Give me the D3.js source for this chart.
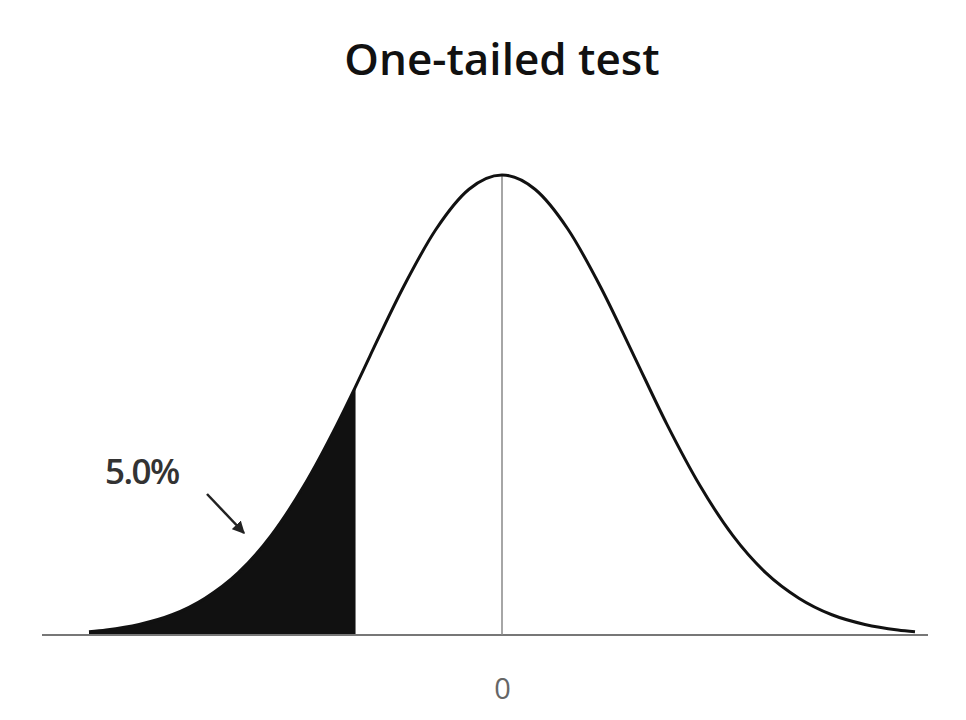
<!DOCTYPE html>
<html>
<head>
<meta charset="utf-8">
<script src="https://cdn.jsdelivr.net/npm/d3@7"></script>
<style>
  body { margin: 0; background: #fff; }
  text { font-family: "Open Sans", sans-serif; }
</style>
</head>
<body>
<svg id="chart" width="966" height="720"></svg>
<script>
// z positions (in sigma units) and relative curve heights
var zs = [-3.13, -3, -2.75, -2.5, -2.25, -2, -1.75, -1.5, -1.25, -1.11, -1, -0.75, -0.5, -0.25, 0,
  0.25, 0.5, 0.75, 1, 1.25, 1.5, 1.75, 2, 2.25, 2.5, 2.75, 3, 3.13]
var heights = [0.007, 0.011, 0.023, 0.044, 0.08, 0.135, 0.216, 0.325, 0.458, 0.54, 0.607, 0.755, 0.882, 0.969, 1,
  0.969, 0.882, 0.755, 0.607, 0.458, 0.325, 0.216, 0.135, 0.08, 0.044, 0.023, 0.011, 0.007]
var cutoff = -1.11
var tickLabels = ['0']
var tailLabel = '5.0%'

var svg = d3.select('#chart')
var x = d3.scaleLinear().domain([-3.13, 3.13]).range([89, 915])
var y = d3.scaleLinear().domain([0, 1]).range([635, 175])

var pts = zs.map(function (z, i) { return { z: z, h: heights[i] } })
var tail = pts.filter(function (d) { return d.z <= cutoff })

svg.append('text')
  .attr('x', 502).attr('y', 75)
  .attr('text-anchor', 'middle')
  .style('font-size', '44px').style('font-weight', 600).style('fill', '#111')
  .text('One-tailed test')

svg.append('path')
  .datum(tail)
  .attr('fill', '#111')
  .attr('d', d3.area().curve(d3.curveMonotoneX)
    .x(function (d) { return x(d.z) })
    .y0(y(0))
    .y1(function (d) { return y(d.h) }))

// axis line
var axis = d3.axisBottom(x).tickValues([0]).tickFormat(function (d, i) { return tickLabels[i] }).tickSize(0)
var ag = svg.append('g').attr('transform', 'translate(0,' + y(0) + ')').call(axis)
ag.select('.domain').remove()
ag.selectAll('text').attr('dy', 0).attr('y', 64).style('font-size', '29px').style('fill', '#666')
  .style('font-family', '"Open Sans", sans-serif')
svg.append('line').attr('x1', 42).attr('x2', 928).attr('y1', y(0)).attr('y2', y(0))
  .attr('stroke', '#777').attr('stroke-width', 2)

svg.append('line').attr('x1', x(0)).attr('x2', x(0)).attr('y1', y(1)).attr('y2', y(0))
  .attr('stroke', '#888').attr('stroke-width', 1.5)

svg.append('path')
  .datum(pts)
  .attr('fill', 'none').attr('stroke', '#111').attr('stroke-width', 3)
  .attr('d', d3.line().curve(d3.curveMonotoneX)
    .x(function (d) { return x(d.z) })
    .y(function (d) { return y(d.h) }))

svg.append('text')
  .attr('x', 105).attr('y', 484)
  .style('font-size', '35px').style('font-weight', 600).style('fill', '#333')
  .style('letter-spacing', '-1.5px')
  .text(tailLabel)

svg.append('defs').append('marker')
  .attr('id', 'arr').attr('viewBox', '0 0 10 10').attr('refX', 9).attr('refY', 5)
  .attr('markerWidth', 5).attr('markerHeight', 5).attr('orient', 'auto')
  .append('path').attr('d', 'M0,0L10,5L0,10z').attr('fill', '#222')
svg.append('line').attr('x1', 207).attr('y1', 494).attr('x2', 244).attr('y2', 533)
  .attr('stroke', '#222').attr('stroke-width', 2.5).attr('marker-end', 'url(#arr)')
</script>
</body>
</html>
